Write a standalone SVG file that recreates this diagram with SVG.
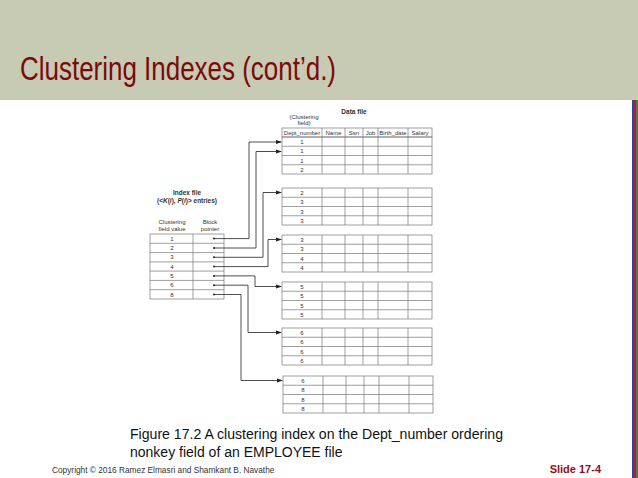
<svg xmlns="http://www.w3.org/2000/svg" width="638" height="478" viewBox="0 0 638 478">
<style>
.t{font-family:"Liberation Sans",Arial,sans-serif;fill:#333}
.s{font-size:6px;text-anchor:middle}
.g{fill:none;stroke:#777;stroke-width:0.7}
.c{fill:none;stroke:#222;stroke-width:0.8}
</style>
<defs>
<marker id="a" markerWidth="6" markerHeight="6" refX="5" refY="3" orient="auto" markerUnits="userSpaceOnUse"><path d="M0,1 L6,3 L0,5z" fill="#222"/></marker>
<g id="cols"><path class="g" d="M40,0V37M63,0V37M81,0V37M96,0V37M126,0V37"/><rect class="g" x="0" y="0" width="150" height="37"/><path class="g" d="M0,9.25H150M0,18.5H150M0,27.75H150"/></g>
</defs>
<rect x="0" y="0" width="638" height="100" fill="#c8cbb3"/>
<rect x="632" y="100" width="2" height="378" fill="#3b3f9e"/><rect x="634" y="100" width="2" height="378" fill="#a3263a"/><rect x="636" y="100" width="2" height="378" fill="#5a7a3a"/>
<text x="20" y="80" font-family="Liberation Sans,Arial,sans-serif" font-size="33" fill="#7a0a0a" textLength="316" lengthAdjust="spacingAndGlyphs">Clustering Indexes (cont’d.)</text>
<g id="datafile">
<text class="t" x="354" y="114" font-size="6.5" font-weight="bold" text-anchor="middle">Data file</text>
<text class="t s" x="304" y="119">(Clustering</text><text class="t s" x="304" y="125">field)</text>
<rect class="g" x="282" y="128" width="150" height="9"/>
<path class="g" d="M322,128V137M345,128V137M363,128V137M378,128V137M408,128V137"/>
<g class="t s"><text x="302" y="134.5">Dept_number</text><text x="333.5" y="134.5">Name</text><text x="354" y="134.5">Ssn</text><text x="370.5" y="134.5">Job</text><text x="393" y="134.5">Birth_date</text><text x="420" y="134.5">Salary</text></g>
</g>
<g id="block1"><use href="#cols" x="282" y="137"/><g class="t s"><text x="302" y="144">1</text><text x="302" y="153">1</text><text x="302" y="162.5">1</text><text x="302" y="171.5">2</text></g></g>
<g id="block2"><use href="#cols" x="282" y="188"/><g class="t s"><text x="302" y="195">2</text><text x="302" y="204">3</text><text x="302" y="213.5">3</text><text x="302" y="222.5">3</text></g></g>
<g id="block3"><use href="#cols" x="282" y="235"/><g class="t s"><text x="302" y="242">3</text><text x="302" y="251">3</text><text x="302" y="260.5">4</text><text x="302" y="269.5">4</text></g></g>
<g id="block4"><use href="#cols" x="282" y="282"/><g class="t s"><text x="302" y="289">5</text><text x="302" y="298">5</text><text x="302" y="307.5">5</text><text x="302" y="316.5">5</text></g></g>
<g id="block5"><use href="#cols" x="282" y="328"/><g class="t s"><text x="302" y="335">6</text><text x="302" y="344">6</text><text x="302" y="353.5">6</text><text x="302" y="362.5">6</text></g></g>
<g id="block6"><use href="#cols" x="283" y="376"/><g class="t s"><text x="303" y="383">6</text><text x="303" y="392">8</text><text x="303" y="401.5">8</text><text x="303" y="410.5">8</text></g></g>
<g id="indexfile">
<text class="t" x="187" y="195" font-size="6.5" font-weight="bold" text-anchor="middle">Index file</text>
<text class="t" x="187" y="203" font-size="6.5" font-weight="bold" text-anchor="middle">(&lt;<tspan font-style="italic">K</tspan>(<tspan font-style="italic">i</tspan>), <tspan font-style="italic">P</tspan>(<tspan font-style="italic">i</tspan>)&gt; entries)</text>
<text class="t s" x="172" y="224">Clustering</text><text class="t s" x="172" y="231">field value</text>
<text class="t s" x="210" y="224">Block</text><text class="t s" x="210" y="231">pointer</text>
<rect class="g" x="150" y="234" width="74" height="65"/>
<path class="g" d="M193,234V299M150,243.3H224M150,252.6H224M150,261.9H224M150,271.1H224M150,280.4H224M150,289.7H224"/>
<g class="t s"><text x="172" y="240.7">1</text><text x="172" y="250">2</text><text x="172" y="259.3">3</text><text x="172" y="268.6">4</text><text x="172" y="277.9">5</text><text x="172" y="287.2">6</text><text x="172" y="296.5">8</text></g>
<g fill="#222"><circle cx="214" cy="238.6" r="1"/><circle cx="214" cy="248" r="1"/><circle cx="214" cy="257.3" r="1"/><circle cx="214" cy="266.6" r="1"/><circle cx="214" cy="275.9" r="1"/><circle cx="214" cy="285.2" r="1"/><circle cx="214" cy="294.5" r="1"/></g>
</g>
<g id="connectors">
<path class="c" d="M214,238.6H249V142H281" marker-end="url(#a)"/>
<path class="c" d="M214,248H256V151.5H281" marker-end="url(#a)"/>
<path class="c" d="M214,257.3H263V192.5H281" marker-end="url(#a)"/>
<path class="c" d="M214,266.6H268V239.5H281" marker-end="url(#a)"/>
<path class="c" d="M214,275.9H255V286.5H281" marker-end="url(#a)"/>
<path class="c" d="M214,285.2H248V332.5H281" marker-end="url(#a)"/>
<path class="c" d="M214,294.5H241V380.5H282" marker-end="url(#a)"/>
</g>
<g id="caption" font-family="Liberation Sans,Arial,sans-serif" fill="#111">
<text x="130" y="439" font-size="14" textLength="373" lengthAdjust="spacingAndGlyphs">Figure 17.2 A clustering index on the Dept_number ordering</text>
<text x="130" y="457" font-size="14">nonkey field of an EMPLOYEE file</text>
<text x="52" y="473" font-size="8.3" fill="#333">Copyright © 2016 Ramez Elmasri and Shamkant B. Navathe</text>
<text x="601" y="473" font-size="11" font-weight="bold" fill="#8a1020" text-anchor="end">Slide 17-4</text>
</g>
</svg>
